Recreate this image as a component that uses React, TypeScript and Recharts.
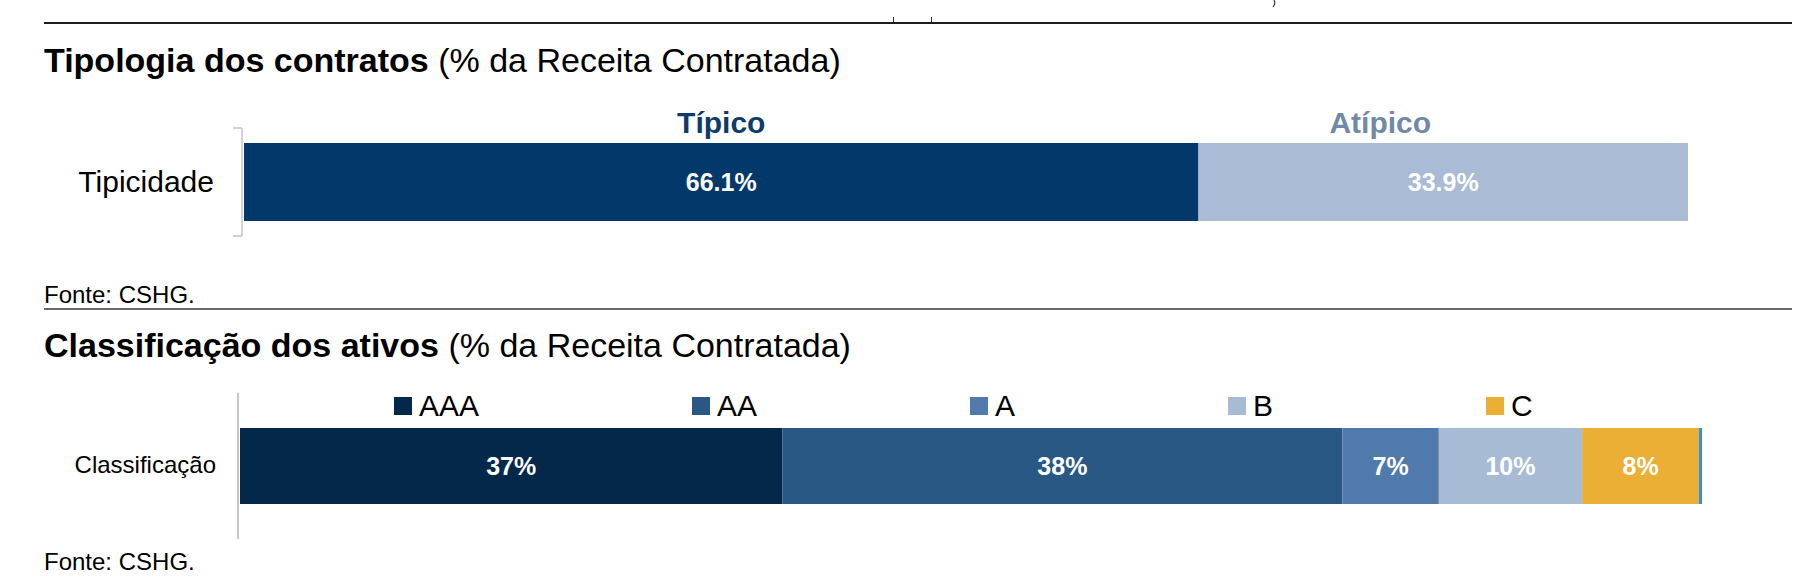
import { Bar, BarChart, LabelList, Legend, XAxis, YAxis } from "recharts";

const font = "'Liberation Sans', Arial, Helvetica, sans-serif";

// Tipologia dos contratos
const typologyCategories = ["Tipicidade"];
const typologySeries = ["Típico", "Atípico"];
const typologyValues = [66.1, 33.9];
const typologyColors = ["#03386a", "#a9bbd5"];
const typologyNameColors = ["#0f3b6c", "#7089a6"];

// Classificação dos ativos
const ratingCategories = ["Classificação"];
const ratingSeries = ["AAA", "AA", "A", "B", "C", "Outros"];
const ratingValues = [37.1, 38.3, 6.6, 9.8, 8.0, 0.2];
const ratingColors = ["#03284a", "#285883", "#4f7aab", "#a8bbd5", "#ebaf35", "#2b8fd9"];
const ratingInLegend = [true, true, true, true, true, false];

// the series names above bar 1 are not all centred on their segment
const nameShift = [0, -63];

const toRows = (categories: string[], series: string[], values: number[]) =>
  categories.map((name) => {
    const row: Record<string, string | number> = { name };
    series.forEach((s, i) => (row[s] = values[i]));
    return row;
  });

const typologyData = toRows(typologyCategories, typologySeries, typologyValues);
const ratingData = toRows(ratingCategories, ratingSeries, ratingValues);

function BracketTick({ x, y, payload }: any) {
  const half = 54;
  return (
    <g>
      <text x={x - 28} y={y} dy={10} textAnchor="end" fontSize={30} fontFamily={font} fill="#000">
        {payload.value}
      </text>
      <line x1={x - 9} x2={x} y1={y - half} y2={y - half} stroke="#c4c4c4" strokeWidth={1.5} />
      <line x1={x - 9} x2={x} y1={y + half} y2={y + half} stroke="#c4c4c4" strokeWidth={1.5} />
    </g>
  );
}

function PlainTick({ x, y, payload }: any) {
  return (
    <text x={x - 22} y={y} dy={7} textAnchor="end" fontSize={24} fontFamily={font} fill="#000">
      {payload.value}
    </text>
  );
}

function RatingLegend({ payload }: any) {
  const items = (payload || []).filter(
    (e: any) => e.type !== "none" && ratingInLegend[ratingSeries.indexOf(e.value)]
  );
  return (
    <div style={{ display: "flex", gap: 213, fontFamily: font, fontSize: 30, lineHeight: "30px", color: "#000" }}>
      {items.map((e: any) => (
        <div key={e.value} style={{ display: "flex", alignItems: "center" }}>
          <span style={{ display: "inline-block", width: 18, height: 18, background: e.color, marginRight: 7 }} />
          <span>{e.value}</span>
        </div>
      ))}
    </div>
  );
}

const seriesName = (name: string, color: string, shift: number) => (p: any) => {
  const vb = p.viewBox || p;
  return (
    <text
      x={vb.x + vb.width / 2 + shift}
      y={vb.y - 10}
      textAnchor="middle"
      fontSize={30}
      fontWeight="bold"
      fontFamily={font}
      fill={color}
    >
      {name}
    </text>
  );
};

const abs = (left: number, top: number, extra: React.CSSProperties = {}): React.CSSProperties => ({
  position: "absolute",
  left,
  top,
  whiteSpace: "nowrap",
  ...extra,
});

export default function App() {
  return (
    <div
      style={{
        position: "absolute",
        left: 0,
        top: 0,
        width: 1796,
        height: 584,
        background: "#fff",
        fontFamily: font,
        color: "#000",
        overflow: "hidden",
      }}
    >
      {/* leftovers of the block above */}
      <svg style={abs(1272, 0)} width={8} height={8}>
        <path d="M2 0 Q4 4 1 7" fill="none" stroke="#444" strokeWidth={1.3} />
      </svg>
      <div style={abs(893, 17, { width: 1, height: 5, background: "#333" })} />
      <div style={abs(931, 17, { width: 1, height: 5, background: "#333" })} />

      <div style={abs(44, 22, { width: 1748, height: 2, background: "#1c1c1c" })} />

      <div style={abs(44, 43, { fontSize: 34, lineHeight: "34px" })}>
        <b>Tipologia dos contratos</b> (% da Receita Contratada)
      </div>

      <div style={abs(0, 100)}>
        <BarChart
          width={1796}
          height={150}
          layout="vertical"
          data={typologyData}
          margin={{ top: 28, right: 108, bottom: 14, left: 0 }}
        >
          <XAxis type="number" hide domain={[0, "dataMax"]} padding={{ left: 2, right: 0 }} />
          <YAxis
            type="category"
            dataKey="name"
            width={242}
            axisLine={{ stroke: "#c4c4c4", strokeWidth: 1.5 }}
            tickLine={false}
            tickSize={0}
            tickMargin={0}
            tick={<BracketTick />}
          />
          {typologySeries.map((s, i) => (
            <Bar key={s} dataKey={s} stackId="t" fill={typologyColors[i]} barSize={78} isAnimationActive={false}>
              <LabelList
                dataKey={s}
                position="center"
                formatter={(v: any) => `${Number(v).toFixed(1)}%`}
                fill="#fff"
                fontSize={25}
                fontWeight="bold"
                fontFamily={font}
              />
              <LabelList dataKey={s} content={seriesName(s, typologyNameColors[i], nameShift[i])} />
            </Bar>
          ))}
        </BarChart>
      </div>

      <div style={abs(44, 283, { fontSize: 24, lineHeight: "24px" })}>Fonte: CSHG.</div>
      <div style={abs(44, 308, { width: 1748, height: 2, background: "#6a6a6a" })} />

      <div style={abs(44, 328, { fontSize: 34, lineHeight: "34px" })}>
        <b>Classificação dos ativos</b> (% da Receita Contratada)
      </div>

      <div style={abs(0, 380)}>
        <BarChart
          width={1796}
          height={170}
          layout="vertical"
          data={ratingData}
          margin={{ top: 13, right: 94, bottom: 11, left: 0 }}
        >
          <XAxis type="number" hide domain={[0, "dataMax"]} padding={{ left: 2, right: 0 }} />
          <YAxis
            type="category"
            dataKey="name"
            width={238}
            axisLine={{ stroke: "#c8c8c8", strokeWidth: 2 }}
            tickLine={false}
            tickSize={0}
            tickMargin={0}
            tick={<PlainTick />}
          />
          <Legend
            layout="horizontal"
            align="center"
            verticalAlign="middle"
            itemSorter={(item: any) => ratingSeries.indexOf(item.value)}
            wrapperStyle={{ left: 394, top: 11, width: "auto", height: 30 }}
            content={<RatingLegend />}
          />
          {ratingSeries.map((s, i) => (
            <Bar
              key={s}
              dataKey={s}
              stackId="r"
              fill={ratingColors[i]}
              barSize={76}
              legendType={ratingInLegend[i] ? "square" : "none"}
              isAnimationActive={false}
            >
              {ratingInLegend[i] && (
                <LabelList
                  dataKey={s}
                  position="center"
                  formatter={(v: any) => `${Number(v).toFixed(0)}%`}
                  fill="#fff"
                  fontSize={25}
                  fontWeight="bold"
                  fontFamily={font}
                />
              )}
            </Bar>
          ))}
        </BarChart>
      </div>

      <div style={abs(44, 550, { fontSize: 24, lineHeight: "24px" })}>Fonte: CSHG.</div>
    </div>
  );
}
